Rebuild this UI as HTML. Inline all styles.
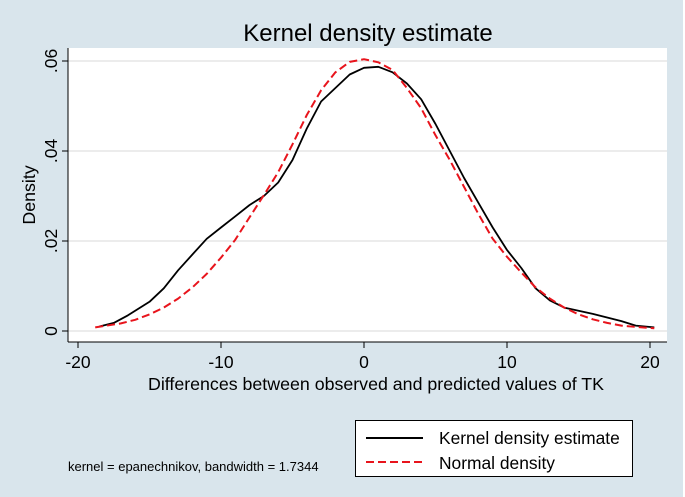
<!DOCTYPE html>
<html><head><meta charset="utf-8"><style>
html,body{margin:0;padding:0;background:#fff}
svg{display:block;font-family:"Liberation Sans",Arial,sans-serif}
</style></head><body>
<svg id="chart" width="685" height="497" viewBox="0 0 685 497">
<rect x="0" y="0" width="683" height="497" fill="#d9e5ec"/>
<rect x="68" y="48" width="599" height="294" fill="#fff"/>
<text x="368" y="41" font-size="24" text-anchor="middle" fill="#000">Kernel density estimate</text>
<g id="grid"></g>
<g id="axes"></g>
<g id="series"></g>
<text x="376" y="390" font-size="17.8" text-anchor="middle">Differences between observed and predicted values of TK</text>
<text transform="translate(35,195) rotate(-90)" font-size="17.8" text-anchor="middle">Density</text>
<g>
<rect x="355.5" y="420.5" width="277" height="56" fill="#fff" stroke="#000" stroke-width="1"/>
<line x1="366" y1="438" x2="423" y2="438" stroke="#000" stroke-width="2"/>
<text x="439" y="444" font-size="17.4">Kernel density estimate</text>
<line x1="366" y1="462" x2="423" y2="462" stroke="#e8141c" stroke-width="2" stroke-dasharray="8,4"/>
<text x="439" y="469" font-size="17.4">Normal density</text>
</g>
<text x="68" y="471" font-size="13">kernel = epanechnikov, bandwidth = 1.7344</text>
</svg>
<script>
const xTicks=[-20,-10,0,10,20];
const yTicks=[0,0.02,0.04,0.06];
const yTickLabels=["0",".02",".04",".06"];
const kernelX=[-18.5,-17.5,-16.5,-15,-14,-13,-12,-11,-10,-9,-8,-7,-6,-5,-4,-3,-2,-1,0,1,2,3,4,5,6,7,8,9,10,11,12,13,14,15,16,17,18,19,20.3];
const kernelY=[0.001,0.0018,0.0035,0.0065,0.0095,0.0135,0.017,0.0205,0.023,0.0255,0.028,0.03,0.033,0.038,0.045,0.051,0.054,0.057,0.0585,0.0587,0.0575,0.055,0.0515,0.046,0.04,0.034,0.0285,0.023,0.018,0.014,0.0095,0.0068,0.0052,0.0045,0.0038,0.003,0.0022,0.0012,0.0008];
const normalX=[-18.8,-17,-16,-15,-14,-13,-12,-11,-10,-9,-8,-7,-6,-5,-4,-3,-2,-1,0,1,2,3,4,5,6,7,8,9,10,11,12,13,14,15,16,17,18,19,20.3];
const normalY=[0.0008,0.0017,0.0025,0.0037,0.0052,0.0072,0.0097,0.0127,0.0163,0.0203,0.0253,0.0302,0.0353,0.0415,0.048,0.0535,0.0575,0.0598,0.0604,0.0597,0.058,0.054,0.0495,0.0435,0.038,0.032,0.026,0.0205,0.0165,0.013,0.0097,0.0072,0.0052,0.0037,0.0026,0.0018,0.0012,0.0009,0.0006];
const NS="http://www.w3.org/2000/svg";
function sx(v){return 364+v*14.3;}
function sy(v){return 331-v*4500;}
function mk(tag,attrs,parent){const e=document.createElementNS(NS,tag);for(const k in attrs)e.setAttribute(k,attrs[k]);parent.appendChild(e);return e;}
const grid=document.getElementById('grid'),axes=document.getElementById('axes'),series=document.getElementById('series');
yTicks.forEach((t,i)=>{
 const g=mk('line',{x1:68,x2:667,y1:sy(t),y2:sy(t),stroke:'#e6e6e6','stroke-width':1.5},grid);
 
 
 const tk=mk('line',{x1:62,x2:68,y1:sy(t),y2:sy(t),stroke:'#000'},axes);
 
 
 const y=sy(t);
 const lb=mk('text',{transform:`translate(57,${y}) rotate(-90)`,'font-size':17.5,'text-anchor':'middle'},axes);
 lb.textContent=yTickLabels[i];
 
 
});
const ya=mk('line',{x1:68,x2:68,y1:48,y2:342,stroke:'#000','stroke-width':1},axes);


const xa=mk('line',{x1:68,x2:667,y1:342,y2:342,stroke:'#000','stroke-width':1},axes);


xTicks.forEach(t=>{
 const tk=mk('line',{x1:sx(t),x2:sx(t),y1:342,y2:348,stroke:'#000'},axes);
 
 
 const lb=mk('text',{x:sx(t),y:368,'font-size':17.5,'text-anchor':'middle'},axes);
 lb.textContent=String(t);
 
 
});
function pts(xs,ys){return xs.map((x,i)=>sx(x).toFixed(1)+','+sy(ys[i]).toFixed(1)).join(' ');}
const kl=mk('polyline',{points:pts(kernelX,kernelY),fill:'none',stroke:'#000','stroke-width':1.8,'stroke-linejoin':'round'},series);


const nl=mk('polyline',{points:pts(normalX,normalY),fill:'none',stroke:'#e8141c','stroke-width':2,'stroke-dasharray':'8,4','stroke-linejoin':'round'},series);


</script>
</body></html>
